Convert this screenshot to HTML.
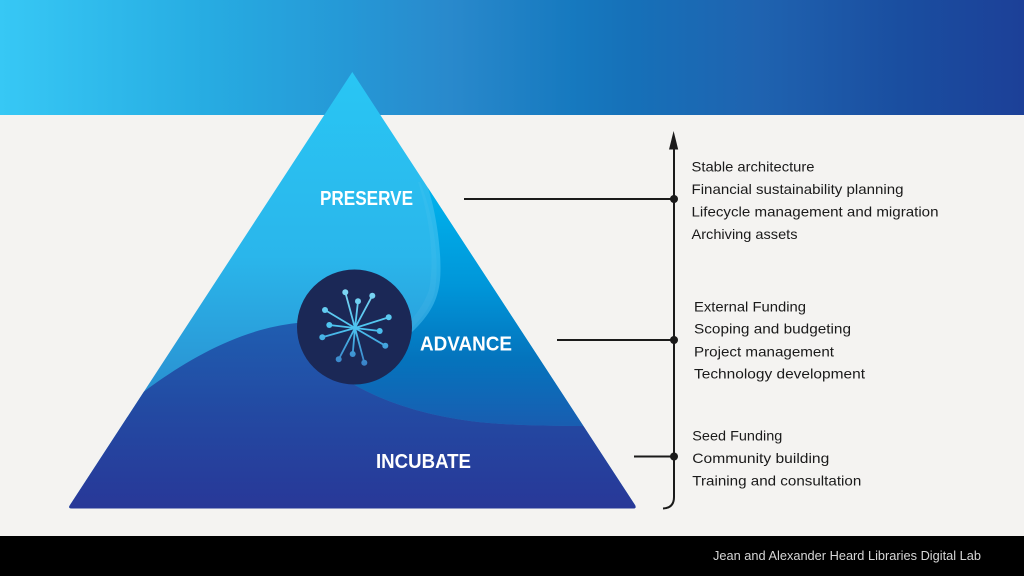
<!DOCTYPE html>
<html>
<head>
<meta charset="utf-8">
<style>
  html,body{margin:0;padding:0;background:#f4f3f1;}
  svg{display:block;}
</style>
</head>
<body>
<svg width="1024" height="576" viewBox="0 0 1024 576" xmlns="http://www.w3.org/2000/svg">
  <defs>
    <linearGradient id="hdr" x1="0" y1="0" x2="1024" y2="0" gradientUnits="userSpaceOnUse">
      <stop offset="0" stop-color="#37c8f5"/>
      <stop offset="0.2" stop-color="#27ace2"/>
      <stop offset="0.34" stop-color="#2598d6"/>
      <stop offset="0.44" stop-color="#2989cc"/>
      <stop offset="0.56" stop-color="#1679bf"/>
      <stop offset="0.62" stop-color="#1670b8"/>
      <stop offset="0.74" stop-color="#1f63b0"/>
      <stop offset="0.88" stop-color="#1a4ea0"/>
      <stop offset="1" stop-color="#1c4098"/>
    </linearGradient>
    <linearGradient id="pres" x1="0" y1="72" x2="0" y2="440" gradientUnits="userSpaceOnUse">
      <stop offset="0" stop-color="#29c6f4"/>
      <stop offset="0.5" stop-color="#2ab6eb"/>
      <stop offset="0.8" stop-color="#2a98d6"/>
      <stop offset="1" stop-color="#2080c6"/>
    </linearGradient>
    <linearGradient id="adv" x1="0" y1="190" x2="0" y2="430" gradientUnits="userSpaceOnUse">
      <stop offset="0" stop-color="#00b2ec"/>
      <stop offset="0.4" stop-color="#0096d9"/>
      <stop offset="0.7" stop-color="#0474bd"/>
      <stop offset="1" stop-color="#1a5cb0"/>
    </linearGradient>
    <linearGradient id="inc" x1="0" y1="320" x2="0" y2="508" gradientUnits="userSpaceOnUse">
      <stop offset="0" stop-color="#1f5eb1"/>
      <stop offset="0.5" stop-color="#2349a2"/>
      <stop offset="1" stop-color="#283898"/>
    </linearGradient>
    <linearGradient id="star" x1="0" y1="290" x2="0" y2="365" gradientUnits="userSpaceOnUse">
      <stop offset="0" stop-color="#7fd6f2"/>
      <stop offset="0.5" stop-color="#4cc4f0"/>
      <stop offset="1" stop-color="#3a82c8"/>
    </linearGradient>
    <clipPath id="tri">
      <path d="M352.3,72 L635,505 Q637,508.5 633,508.5 L72,508.5 Q67.5,508.5 70,505 Z"/>
    </clipPath>
  </defs>

  <rect x="0" y="0" width="1024" height="576" fill="#f4f3f1"/>
  <rect x="0" y="0" width="1024" height="115" fill="url(#hdr)"/>
  <rect x="0" y="536" width="1024" height="40" fill="#000"/>
  <text x="713" y="560" font-family="Liberation Sans, sans-serif" font-size="12.5" fill="#d6d6d6" textLength="268" lengthAdjust="spacingAndGlyphs">Jean and Alexander Heard Libraries Digital Lab</text>

  <g clip-path="url(#tri)">
    <rect x="60" y="70" width="590" height="445" fill="url(#pres)"/>
    <path d="M420,182 C436,220 440,270 434,295 C428,312 418,322 408,332 L400,332 C414,318 424,305 429,290 C434,265 432,225 418,182 Z" fill="#ffffff" opacity="0.04"/>
    <path d="M426,182 C438,215 442,260 440,280 C438,300 430,315 412,332 L353,384 C385,402 420,414 470,421 C510,426 560,426 600,426 L700,426 L700,182 Z" fill="url(#adv)"/>
    <path d="M120,410 C170,370 230,330 297,323 L354,330 L353,384 C385,402 420,414 470,421 C510,426 560,426 600,426 L700,426 L700,520 L40,520 Z" fill="url(#inc)"/>
  </g>

  <circle cx="354.5" cy="327" r="57.5" fill="#1b2856"/>
  <g stroke="url(#star)" stroke-width="1.8" stroke-linecap="round" fill="none">
    <line x1="355" y1="328" x2="345.3" y2="292.3"/>
    <line x1="355" y1="328" x2="358" y2="301.3"/>
    <line x1="355" y1="328" x2="372.3" y2="295.7"/>
    <line x1="355" y1="328" x2="325" y2="310"/>
    <line x1="355" y1="328" x2="329.3" y2="325"/>
    <line x1="355" y1="328" x2="322.3" y2="337.3"/>
    <line x1="355" y1="328" x2="388.7" y2="317.3"/>
    <line x1="355" y1="328" x2="379.7" y2="331"/>
    <line x1="355" y1="328" x2="385.3" y2="345.7"/>
    <line x1="355" y1="328" x2="338.7" y2="359.3"/>
    <line x1="355" y1="328" x2="352.7" y2="354"/>
    <line x1="355" y1="328" x2="364.3" y2="362.7"/>
  </g>
  <g fill="url(#star)">
    <circle cx="345.3" cy="292.3" r="3"/>
    <circle cx="358" cy="301.3" r="3"/>
    <circle cx="372.3" cy="295.7" r="3"/>
    <circle cx="325" cy="310" r="3"/>
    <circle cx="329.3" cy="325" r="3"/>
    <circle cx="322.3" cy="337.3" r="3"/>
    <circle cx="388.7" cy="317.3" r="3"/>
    <circle cx="379.7" cy="331" r="3"/>
    <circle cx="385.3" cy="345.7" r="3"/>
    <circle cx="338.7" cy="359.3" r="3"/>
    <circle cx="352.7" cy="354" r="3"/>
    <circle cx="364.3" cy="362.7" r="3"/>
  </g>

  <g font-family="Liberation Sans, sans-serif" font-weight="bold" font-size="20.5" fill="#ffffff">
    <text x="320" y="205" textLength="93" lengthAdjust="spacingAndGlyphs">PRESERVE</text>
    <text x="420" y="350.5" textLength="92" lengthAdjust="spacingAndGlyphs">ADVANCE</text>
    <text x="376" y="468" textLength="95" lengthAdjust="spacingAndGlyphs">INCUBATE</text>
  </g>

  <g stroke="#1a1a1a" stroke-width="2" fill="none">
    <line x1="464" y1="199" x2="674" y2="199"/>
    <line x1="557" y1="340" x2="674" y2="340"/>
    <line x1="634" y1="456.5" x2="674" y2="456.5"/>
    <path d="M674,146 L674,497 Q674,508 663,508.5"/>
  </g>
  <polygon points="673.6,131 669,149.5 678.2,149.5" fill="#1a1a1a"/>
  <g fill="#1a1a1a">
    <circle cx="674" cy="199" r="4"/>
    <circle cx="674" cy="340" r="4"/>
    <circle cx="674" cy="456.5" r="4"/>
  </g>

  <g font-family="Liberation Sans, sans-serif" font-size="14" fill="#1a1a1a">
    <text x="691.5" y="171.5" textLength="123" lengthAdjust="spacingAndGlyphs">Stable architecture</text>
    <text x="691.5" y="194" textLength="212" lengthAdjust="spacingAndGlyphs">Financial sustainability planning</text>
    <text x="691.5" y="216.5" textLength="247" lengthAdjust="spacingAndGlyphs">Lifecycle management and migration</text>
    <text x="691.5" y="239" textLength="106" lengthAdjust="spacingAndGlyphs">Archiving assets</text>

    <text x="694" y="311.5" textLength="112" lengthAdjust="spacingAndGlyphs">External Funding</text>
    <text x="694" y="333.5" textLength="157" lengthAdjust="spacingAndGlyphs">Scoping and budgeting</text>
    <text x="694" y="356.5" textLength="140" lengthAdjust="spacingAndGlyphs">Project management</text>
    <text x="694" y="378.5" textLength="171" lengthAdjust="spacingAndGlyphs">Technology development</text>

    <text x="692.3" y="440.7" textLength="90" lengthAdjust="spacingAndGlyphs">Seed Funding</text>
    <text x="692.3" y="463.2" textLength="137" lengthAdjust="spacingAndGlyphs">Community building</text>
    <text x="692.3" y="485.7" textLength="169" lengthAdjust="spacingAndGlyphs">Training and consultation</text>
  </g>
</svg>
</body>
</html>
